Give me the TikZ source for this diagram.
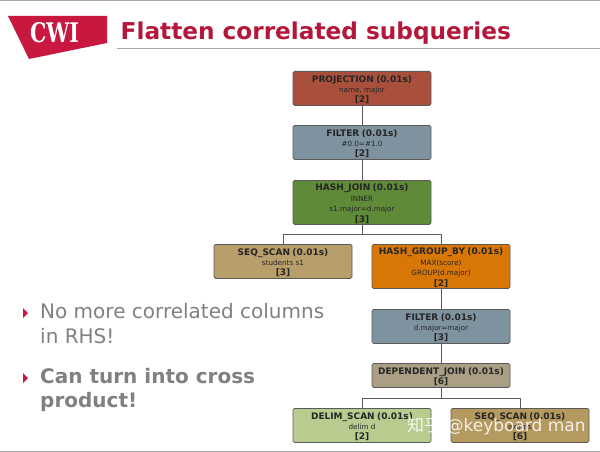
\documentclass[tikz,border=0pt]{standalone}
\usepackage{fontspec}
\setmainfont{DejaVu Sans}
\newfontfamily\cjk{Noto Sans CJK SC}
\newfontfamily\logofont{DejaVu Serif}
\definecolor{cwired}{HTML}{C9183F}
\definecolor{titlered}{HTML}{B5173A}
\definecolor{bodygray}{HTML}{808080}
\definecolor{rulegray}{HTML}{A8A8A8}
\definecolor{edgegray}{HTML}{5A5A5A}
\tikzset{
	opbox/.style={draw=edgegray, line width=0.8pt, rounded corners=1.5pt, minimum width=138, text width=136, align=center, inner sep=0pt, anchor=north, font=\fontsize{7.2}{10.4}\selectfont, text=black!85, execute at begin node={\leavevmode\rule{0pt}{9.5pt}}},
	bullet/.style={anchor=base west, inner sep=0pt, text=bodygray, font=\fontsize{20}{24}\selectfont},
	edge/.style={draw=edgegray, line width=0.8pt},
	arrowmark/.style={fill=cwired, draw=none}
}
\newcommand{\opname}[1]{{\bfseries\fontsize{9}{10.4}\selectfont #1}}
\begin{document}
\begin{tikzpicture}[x=1pt, y=-1pt, line join=round]
	\useasboundingbox (0,0) rectangle (600,452);
	\fill[rulegray] (0,0) rectangle (600,1);
	\fill[rulegray] (0,451) rectangle (600,452);
	% header
	\fill[cwired] (8,16)--(107,16)--(107,43)--(29,59)--cycle;
	\node[anchor=base, inner sep=0pt, text=white, font=\logofont\bfseries\fontsize{27}{27}\selectfont, xscale=0.76] (logo) at (54.5,42.5) {CWI};
	\node[anchor=base west, inner sep=0pt, text=titlered, font=\bfseries\fontsize{23.2}{24}\selectfont] (title) at (120.5,40) {Flatten correlated subqueries};
	\draw[rulegray, line width=0.7pt] (117,48)--(600,48);
	% bullets
	\fill[arrowmark] (23,308)--(28,313)--(23,318)--cycle;
	\fill[arrowmark] (23,373)--(28,378)--(23,383)--cycle;
	\node[bullet] (line1) at (40,318) {No more correlated columns};
	\node[bullet] (line2) at (40,343) {in RHS!};
	\node[bullet, font=\bfseries\fontsize{20}{24}\selectfont] (line3) at (40,383) {Can turn into cross};
	\node[bullet, font=\bfseries\fontsize{20}{24}\selectfont] (line4) at (40,407) {product!};
	% plan
	\node[opbox, fill={rgb,255:red,169;green,80;blue,61}, minimum height=34] (projection) at (362,71) {\opname{PROJECTION (0.01s)}\\name, major\\\opname{[2]}};
	\node[opbox, fill={rgb,255:red,127;green,146;blue,159}, minimum height=34] (filtera) at (362,125) {\opname{FILTER (0.01s)}\\\#0.0=\#1.0\\\opname{[2]}};
	\node[opbox, fill={rgb,255:red,95;green,138;blue,56}, minimum height=44] (hashjoin) at (362,180) {\opname{HASH\_JOIN (0.01s)}\\INNER\\s1.major=d.major\\\opname{[3]}};
	\node[opbox, fill={rgb,255:red,184;green,158;blue,107}, minimum height=34] (seqscana) at (283,244) {\opname{SEQ\_SCAN (0.01s)}\\students s1\\\opname{[3]}};
	\node[opbox, fill={rgb,255:red,217;green,119;blue,6}, minimum height=44] (groupby) at (441,244) {\opname{HASH\_GROUP\_BY (0.01s)}\\MAX(score)\\GROUP(d.major)\\\opname{[2]}};
	\node[opbox, fill={rgb,255:red,127;green,146;blue,159}, minimum height=34] (filterb) at (441,309) {\opname{FILTER (0.01s)}\\d.major=major\\\opname{[3]}};
	\node[opbox, fill={rgb,255:red,170;green,159;blue,133}, minimum height=24] (depjoin) at (441,363) {\opname{DEPENDENT\_JOIN (0.01s)}\\\opname{[6]}};
	\node[opbox, fill={rgb,255:red,185;green,204;blue,144}, minimum height=34] (delimscan) at (362,408) {\opname{DELIM\_SCAN (0.01s)}\\delim d\\\opname{[2]}};
	\node[opbox, fill={rgb,255:red,181;green,154;blue,96}, minimum height=34] (seqscanb) at (520,408) {\opname{SEQ\_SCAN (0.01s)}\\exams\\\opname{[6]}};
	\coordinate (splita) at (362,234);
	\coordinate (splitb) at (441,398);
	\draw[edge] (projection.south)--(filtera.north);
	\draw[edge] (filtera.south)--(hashjoin.north);
	\draw[edge] (hashjoin.south)--(splita);
	\draw[edge] (splita)-|(seqscana.north);
	\draw[edge] (splita)-|(groupby.north);
	\draw[edge] (groupby.south)--(filterb.north);
	\draw[edge] (filterb.south)--(depjoin.north);
	\draw[edge] (depjoin.south)--(splitb);
	\draw[edge] (splitb)-|(delimscan.north);
	\draw[edge] (splitb)-|(seqscanb.north);
	% watermark
	\node[anchor=base west, inner sep=0pt, text=white, opacity=0.85, font=\fontsize{17}{20}\selectfont] (mark) at (407,431) {{\cjk 知乎} @keyboard man};
\end{tikzpicture}
\end{document}
